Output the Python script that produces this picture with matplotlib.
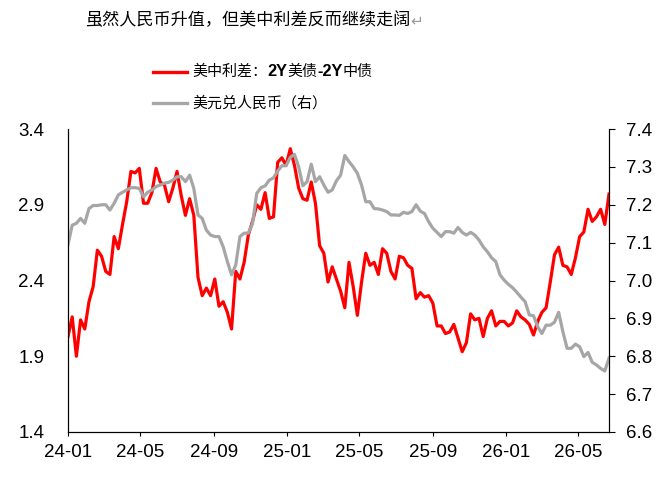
import pandas as pd
import numpy as np
import matplotlib
matplotlib.use('Agg')
import matplotlib.pyplot as plt
import matplotlib.dates as mdates
from matplotlib.lines import Line2D
from matplotlib.ticker import MultipleLocator, FormatStrFormatter

plt.rcParams['font.family'] = ['Liberation Sans', 'Noto Sans CJK SC', 'DejaVu Sans']
CJK = ['Noto Sans CJK SC', 'DejaVu Sans']

# weekly samples
dates = pd.date_range('2024-01-01', periods=130, freq='7D')

# 美中利差: 2Y美债-2Y中债 (left axis)
spread = [2.03, 2.16, 1.90, 2.14, 2.08, 2.26, 2.36, 2.60, 2.56, 2.46,
          2.44, 2.69, 2.61, 2.77, 2.92, 3.12, 3.11, 3.14, 2.91, 2.91,
          2.98, 3.14, 3.05, 3.03, 2.92, 3.01, 3.12, 2.96, 2.83, 2.94,
          2.83, 2.42, 2.30, 2.35, 2.30, 2.41, 2.23, 2.26, 2.19, 2.08,
          2.46, 2.41, 2.52, 2.70, 2.79, 2.90, 2.87, 2.98, 2.81, 2.82,
          3.18, 3.21, 3.16, 3.27, 3.16, 3.01, 2.94, 2.93, 3.05, 2.91,
          2.63, 2.58, 2.39, 2.49, 2.41, 2.33, 2.22, 2.52, 2.36, 2.17,
          2.39, 2.58, 2.50, 2.52, 2.44, 2.61, 2.58, 2.46, 2.41, 2.56,
          2.55, 2.50, 2.48, 2.28, 2.32, 2.29, 2.30, 2.25, 2.10, 2.10,
          2.05, 2.06, 2.11, 2.02, 1.93, 1.99, 2.18, 2.14, 2.15, 2.03,
          2.15, 2.20, 2.10, 2.13, 2.13, 2.10, 2.12, 2.20, 2.16, 2.14,
          2.11, 2.04, 2.13, 2.19, 2.22, 2.39, 2.57, 2.62, 2.50, 2.49,
          2.44, 2.55, 2.69, 2.72, 2.87, 2.79, 2.82, 2.87, 2.77, 2.97]

# 美元兑人民币 (right axis)
usdcny = [7.095, 7.146, 7.151, 7.164, 7.151, 7.190, 7.198, 7.198, 7.200, 7.200,
          7.186, 7.204, 7.226, 7.233, 7.239, 7.245, 7.245, 7.243, 7.221, 7.233,
          7.239, 7.248, 7.252, 7.257, 7.259, 7.265, 7.274, 7.274, 7.261, 7.278,
          7.243, 7.173, 7.164, 7.133, 7.120, 7.116, 7.116, 7.089, 7.050, 7.015,
          7.041, 7.116, 7.125, 7.125, 7.150, 7.230, 7.245, 7.250, 7.265, 7.271,
          7.289, 7.303, 7.303, 7.325, 7.333, 7.300, 7.250, 7.261, 7.307, 7.261,
          7.274, 7.252, 7.233, 7.239, 7.263, 7.278, 7.330, 7.314, 7.300, 7.283,
          7.252, 7.208, 7.208, 7.190, 7.189, 7.186, 7.182, 7.173, 7.173, 7.172,
          7.180, 7.177, 7.182, 7.200, 7.183, 7.177, 7.155, 7.138, 7.127, 7.116,
          7.129, 7.129, 7.125, 7.140, 7.127, 7.120, 7.127, 7.120, 7.107, 7.089,
          7.076, 7.060, 7.050, 7.015, 7.001, 6.990, 6.981, 6.969, 6.956, 6.944,
          6.909, 6.907, 6.878, 6.860, 6.882, 6.882, 6.890, 6.916, 6.865, 6.821,
          6.821, 6.832, 6.825, 6.799, 6.810, 6.784, 6.777, 6.768, 6.761, 6.795]

left_ticks = [1.4, 1.9, 2.4, 2.9, 3.4]

W, H = 669, 480
fig = plt.figure(figsize=(W / 100, H / 100), dpi=100)
ax = fig.add_axes([68 / W, 1 - 432 / H, (609 - 68) / W, (432 - 129) / H])

ax.plot(dates, spread, color='#ff0000', lw=2.3)
ax.set_ylim(1.4, 3.4)
ax.set_yticks(left_ticks)
ax.yaxis.set_major_formatter(FormatStrFormatter('%.1f'))
ax.set_xlim(dates[0], dates[-1])
ax.xaxis.set_major_locator(mdates.MonthLocator(bymonth=[1, 5, 9]))
ax.xaxis.set_major_formatter(mdates.DateFormatter('%y-%m'))
ax.tick_params(axis='y', length=0, pad=17, labelsize=13.5)
ax.tick_params(axis='x', length=3, width=0.8, pad=5.5, labelsize=13.5)
ax.spines['top'].set_visible(False)

ax2 = ax.twinx()
ax2.plot(dates, usdcny, color='#a6a6a6', lw=2.3)
ax2.set_ylim(6.6, 7.4)
ax2.yaxis.set_major_locator(MultipleLocator(0.1))
ax2.yaxis.set_major_formatter(FormatStrFormatter('%.1f'))
ax2.tick_params(axis='y', length=4.5, width=0.8, pad=8, labelsize=13.5)
ax2.spines['top'].set_visible(False)

# title
t = fig.text(85 / W, 1 - 20 / H, '虽然人民币升值，但美中利差反而继续走阔',
             fontsize=12.3, va='center', ha='left', family=CJK)
ax.annotate('\u21b5', xy=(1, 0), xycoords=t, va='bottom', ha='left',
            fontsize=11, color='#9a9a9a', family=CJK, annotation_clip=False)

# legend
fig.add_artist(Line2D([153 / W, 187 / W], [1 - 72 / H] * 2, color='#ff0000', lw=2.4))
fig.add_artist(Line2D([153 / W, 187 / W], [1 - 103 / H] * 2, color='#a6a6a6', lw=2.4))

parts = [('美中利差：', 'normal', CJK), ('2Y', 'bold', ['Liberation Sans']),
         ('美债', 'normal', CJK), ('-2Y', 'bold', ['Liberation Sans']),
         ('中债', 'normal', CJK)]
prev = fig.text(192 / W, 1 - 72 / H, parts[0][0], fontsize=10.8, va='center', family=CJK)
for s, w, fam in parts[1:]:
    prev = ax.annotate(s, xy=(1, 0), xycoords=prev, va='bottom', ha='left',
                       fontsize=11.8 if w == 'bold' else 10.8, weight=w,
                       family=fam, annotation_clip=False)
fig.text(192 / W, 1 - 103 / H, '美元兑人民币（右）', fontsize=10.8, va='center', family=CJK)

fig.savefig('out.png', dpi=100)
